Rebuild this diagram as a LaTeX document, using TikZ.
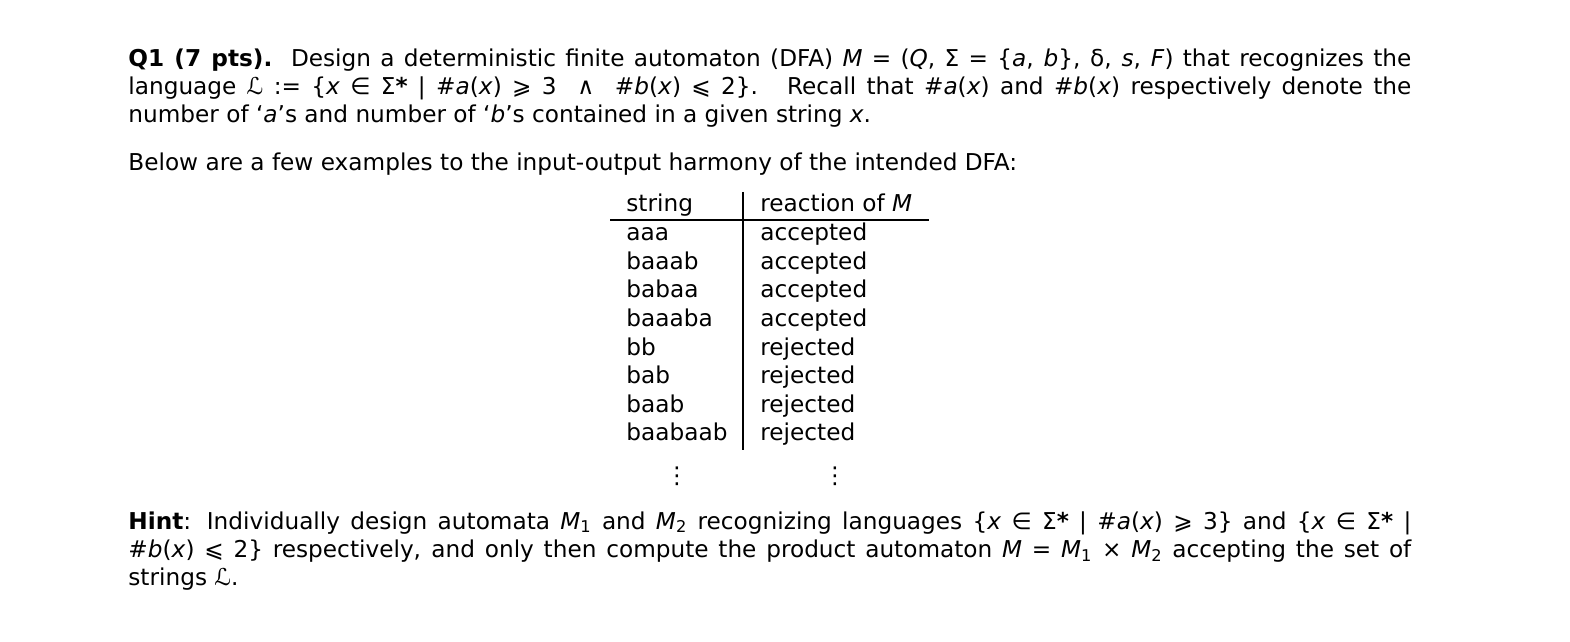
\documentclass[tikz,border=0pt]{standalone}
\usepackage{fontspec}
\setmainfont{DejaVu Sans}
\newcommand\vi[1]{\textit{#1}}
\begin{document}
\begin{tikzpicture}[x=0.5pt,y=-0.5pt,
  txt/.style={anchor=base west,inner sep=0pt,font=\fontsize{11.6}{14.2}\selectfont},
  par/.style={anchor=north west,inner sep=0pt,text width=641.5pt,align=justify,font=\fontsize{11.6}{14.2}\selectfont}]
\useasboundingbox (0,0) rectangle (1570,642);
\node[par] (p1) at (128,48) {\textbf{Q1 (7 pts).}\ \ Design a deterministic finite automaton (DFA) \vi{M} = (\vi{Q}, Σ = \{\vi{a}, \vi{b}\}, δ, \vi{s}, \vi{F}) that recognizes the\linebreak language ℒ := \{\vi{x} ∈ Σ\textbf{*} | \#\vi{a}(\vi{x}) ⩾ 3 \ ∧ \ \#\vi{b}(\vi{x}) ⩽ 2\}. \ Recall that \#\vi{a}(\vi{x}) and \#\vi{b}(\vi{x}) respectively denote the\linebreak number of ‘\vi{a}’s and number of ‘\vi{b}’s contained in a given string \vi{x}.};
\node[txt] (p2) at (128,170) {Below are a few examples to the input-output harmony of the intended DFA:};
\node[txt] (h1) at (626,212) {string};
\node[txt] (h2) at (760,212) {reaction of \vi{M}};
\draw[line width=0.6pt] (743,192) -- (743,450);
\draw[line width=0.6pt] (610,220) -- (929,220);
\foreach \s/\r [count=\i] in {aaa/accepted,baaab/accepted,babaa/accepted,baaaba/accepted,bb/rejected,bab/rejected,baab/rejected,baabaab/rejected}{
  \node[txt] (s\i) at (626,212+28.6*\i) {\s};
  \node[txt] (r\i) at (760,212+28.6*\i) {\r};
}
\node[txt,anchor=center] (d1) at (677,476) {⋮};
\node[txt,anchor=center] (d2) at (835,476) {⋮};
\node[par] (p3) at (128,511) {\textbf{Hint}: Individually design automata \vi{M}\textsubscript{1} and \vi{M}\textsubscript{2} recognizing languages \{\vi{x} ∈ Σ\textbf{*} | \#\vi{a}(\vi{x}) ⩾ 3\} and \{\vi{x} ∈ Σ\textbf{*} |\linebreak \#\vi{b}(\vi{x}) ⩽ 2\} respectively, and only then compute the product automaton \vi{M} = \vi{M}\textsubscript{1} × \vi{M}\textsubscript{2} accepting the set of\linebreak strings ℒ.};
\end{tikzpicture}
\end{document}
